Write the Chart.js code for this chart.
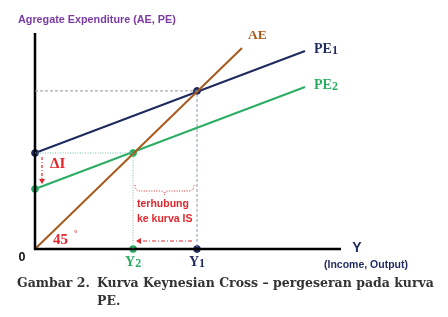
<!DOCTYPE html>
<html>
<head>
<meta charset="utf-8">
<script src="https://cdn.jsdelivr.net/npm/chart.js@4"></script>
<style>
  html, body { margin: 0; padding: 0; background: #fff; }
  #wrap { width: 448px; height: 317px; position: relative; }
</style>
</head>
<body>
<div id="wrap"><canvas id="cross"></canvas></div>
<script>
// values (income on x, expenditure on y)
var aeX = [0, 69];
var aeY = [0, 67];
var pe1X = [0, 90];
var pe1Y = [32, 66];
var pe2X = [0, 90];
var pe2Y = [20, 54];
var eq1 = [54, 52.7];   // PE1 meets AE  -> Y1
var eq2 = [32.7, 32];   // PE2 meets AE  -> Y2
var xMax = 102;
var yMax = 72;

var NAVY = "#1f2b5e";
var GREEN = "#2bae63";
var BROWN = "#a85a1c";
var RED = "#e2262e";

function pts(xs, ys) {
  return xs.map(function (x, i) { return { x: x, y: ys[i] }; });
}

function line(data, color, width, dash) {
  return {
    data: data, showLine: true, borderColor: color, borderWidth: width,
    borderDash: dash || [], pointRadius: 0, clip: false, tension: 0
  };
}

function dots(data, color) {
  return {
    data: data, showLine: false, pointRadius: 3.4, pointBackgroundColor: color,
    pointBorderColor: color, clip: false
  };
}

var labels = {
  id: "labels",
  afterDraw: function (chart) {
    var ctx = chart.ctx;
    var sx = chart.scales.x;
    ctx.save();
    ctx.textBaseline = "middle";

    function txt(s, x, y, font, color, align) {
      ctx.font = font;
      ctx.fillStyle = color;
      ctx.textAlign = align || "left";
      ctx.fillText(s, x, y);
    }
    // label with a small index, like PE1
    function sub(s, n, x, y, size, color, align) {
      ctx.font = "bold " + size + "px 'Liberation Serif'";
      var w1 = ctx.measureText(s).width;
      ctx.font = "bold " + (size - 2) + "px 'Liberation Serif'";
      var w2 = ctx.measureText(n).width;
      var left = align === "center" ? x - (w1 + w2) / 2 : x;
      txt(s, left, y, "bold " + size + "px 'Liberation Serif'", color);
      txt(n, left + w1, y + 1.5, "bold " + (size - 2) + "px 'Liberation Serif'", color);
    }

    txt("Agregate Expenditure (AE, PE)", 18, 20, "bold 10.8px 'Liberation Sans'", "#7b3ba3");
    txt("AE", 248, 36, "bold 13.5px 'Liberation Serif'", BROWN);
    sub("PE", "1", 314, 49, 14, NAVY);
    sub("PE", "2", 314, 85, 14, GREEN);

    txt("Y", 357, 248, "bold 14px 'Liberation Sans'", NAVY, "center");
    txt("(Income, Output)", 366, 265, "bold 10.5px 'Liberation Sans'", NAVY, "center");
    txt("0", 22, 258, "bold 12.5px 'Liberation Sans'", "#111", "center");
    sub("Y", "2", sx.getPixelForValue(eq2[0]), 262, 14, GREEN, "center");
    sub("Y", "1", sx.getPixelForValue(eq1[0]), 262, 14, NAVY, "center");

    txt("\u0394I", 50, 164, "bold 15px 'Liberation Serif'", RED);
    txt("45", 53, 240, "bold 15px 'Liberation Serif'", RED);
    txt("\u00b0", 74, 234, "bold 9px 'Liberation Serif'", RED);

    // delta I arrow, dash-dot, pointing down
    var ax = 42, a0 = 157, a1 = 184;
    ctx.strokeStyle = RED; ctx.fillStyle = RED; ctx.lineWidth = 1.2;
    ctx.setLineDash([3, 2, 1, 2]);
    ctx.beginPath(); ctx.moveTo(ax, a0); ctx.lineTo(ax, a1 - 4); ctx.stroke();
    ctx.setLineDash([]);
    ctx.beginPath(); ctx.moveTo(ax - 3, a1 - 5); ctx.lineTo(ax + 3, a1 - 5); ctx.lineTo(ax, a1); ctx.closePath(); ctx.fill();

    // brace over the text
    var bl = 135, br = 194, by = 191, bm = (bl + br) / 2;
    ctx.setLineDash([1, 1.5]);
    ctx.lineWidth = 1;
    ctx.beginPath();
    ctx.moveTo(bl, by - 6); ctx.quadraticCurveTo(bl, by, bl + 5, by);
    ctx.lineTo(bm - 4, by); ctx.quadraticCurveTo(bm, by, bm, by + 4);
    ctx.quadraticCurveTo(bm, by, bm + 4, by);
    ctx.lineTo(br - 5, by); ctx.quadraticCurveTo(br, by, br, by - 6);
    ctx.stroke();

    txt("terhubung", 137, 204, "bold 10.5px 'Liberation Sans'", RED);
    txt("ke kurva IS", 137, 219, "bold 10.5px 'Liberation Sans'", RED);

    // arrow from Y1 back to Y2
    ctx.setLineDash([4, 2, 1, 2]);
    ctx.lineWidth = 1.2;
    ctx.beginPath(); ctx.moveTo(192, 241); ctx.lineTo(141, 241); ctx.stroke();
    ctx.setLineDash([]);
    ctx.beginPath(); ctx.moveTo(141, 238); ctx.lineTo(141, 244); ctx.lineTo(136, 241); ctx.closePath(); ctx.fill();

    // caption
    var cap = "bold 12.5px 'DejaVu Serif'";
    txt("Gambar 2.", 17, 284, cap, "#333");
    txt("Kurva Keynesian Cross \u2013 pergeseran pada kurva", 97, 284, cap, "#333");
    txt("PE.", 97, 302, cap, "#333");
    ctx.restore();
  }
};

new Chart(document.getElementById("cross"), {
  type: "scatter",
  data: {
    datasets: [
      line([{ x: 0, y: eq1[1] }, { x: eq1[0], y: eq1[1] }, { x: eq1[0], y: 0 }], "#8d96a8", 1, [3, 2]),
      line([{ x: 0, y: eq2[1] }, { x: eq2[0], y: eq2[1] }, { x: eq2[0], y: 0 }], "#74bfae", 1, [1, 1.5]),
      line([{ x: 0, y: yMax }, { x: 0, y: 0 }, { x: xMax, y: 0 }], "#000", 2.5),
      line(pts(aeX, aeY), BROWN, 2),
      line(pts(pe1X, pe1Y), NAVY, 2),
      line(pts(pe2X, pe2Y), GREEN, 2),
      dots([{ x: pe1X[0], y: pe1Y[0] }, { x: eq1[0], y: eq1[1] }, { x: eq1[0], y: 0 }], NAVY),
      dots([{ x: pe2X[0], y: pe2Y[0] }, { x: eq2[0], y: eq2[1] }, { x: eq2[0], y: 0 }], GREEN)
    ]
  },
  options: {
    responsive: true,
    maintainAspectRatio: false,
    animation: false,
    layout: { padding: { left: 35, right: 107, top: 33, bottom: 68 } },
    plugins: { legend: { display: false }, tooltip: { enabled: false } },
    scales: {
      x: { type: "linear", min: 0, max: xMax, display: false },
      y: { type: "linear", min: 0, max: yMax, display: false }
    }
  },
  plugins: [labels]
});
</script>
</body>
</html>
